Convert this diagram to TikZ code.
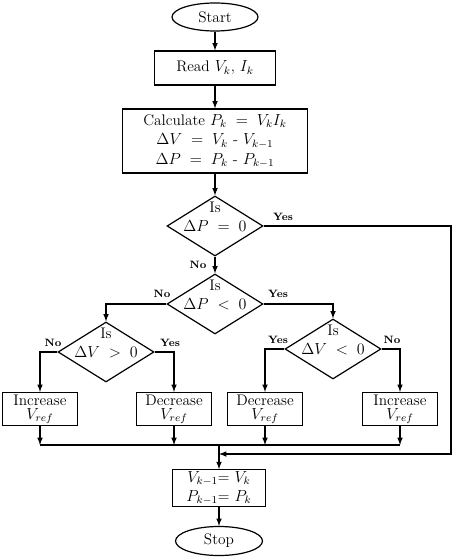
\documentclass[tikz,border=0pt]{standalone}
\usetikzlibrary{shapes.geometric}

\tikzset{
  txt/.style={font=\fontsize{11.5}{13.5}\selectfont},
  term/.style={draw,ellipse,line width=0.9pt,inner sep=0pt,txt},
  proc/.style={draw,rectangle,line width=0.9pt,inner sep=1pt,align=center,txt},
  decide/.style={draw,diamond,aspect=1.6,line width=0.9pt,inner sep=0pt,
    minimum width=72pt,minimum height=45pt,txt,
    label={[anchor=north,yshift=-5pt,inner sep=0pt,txt]north:Is}},
  side/.style={proc,minimum width=56.25pt,minimum height=24.75pt},
  lbl/.style={font=\footnotesize\bfseries,inner sep=1pt},
  line/.style={line width=0.9pt},
}

\begin{document}
\begin{tikzpicture}[x=0.75pt,y=-0.75pt,>=latex]
    \useasboundingbox (0,0) rectangle (474,559);
    % main column
    \node[term,minimum width=64.5pt,minimum height=21pt] (start) at (215,17) {Start};
    \node[proc,minimum width=90.75pt,minimum height=25.5pt] (read) at (215,68) {Read $V_k$, $I_k$};
    \node[proc,minimum width=138.75pt,minimum height=48pt] (calc) at (215,141)
      {Calculate $P_k \;=\; V_kI_k$\\[1pt] $\Delta V \;=\; V_k$ - $V_{k-1}$\\[1pt] $\Delta P \;=\; P_k$ - $P_{k-1}$};
    \node[decide] (dp0) at (215,226) {$\Delta P \;=\; 0$};
    \node[decide] (dpn) at (215,304) {$\Delta P \;<\; 0$};
    % the two voltage tests
    \node[decide] (dvp) at (106,352) {$\Delta V \;>\; 0$};
    \node[decide] (dvn) at (333,349) {$\Delta V \;<\; 0$};
    \node[side] (incL) at (40,409) {Increase\\[-3pt] $V_{ref}$};
    \node[side] (decL) at (174,409) {Decrease\\[-3pt] $V_{ref}$};
    \node[side] (decR) at (265,409) {Decrease\\[-3pt] $V_{ref}$};
    \node[side] (incR) at (400,409) {Increase\\[-3pt] $V_{ref}$};
    % bottom
    \node[proc,minimum width=69.75pt,minimum height=24pt] (upd) at (219,488)
      {$V_{k-1}$= $V_k$\\[1pt] $P_{k-1}$= $P_k$};
    \node[term,minimum width=65.25pt,minimum height=21.75pt] (stop) at (219,541) {Stop};
    \coordinate (merge) at (219,445);
    \coordinate (loop) at (451,454);

    % branch labels
    \node[lbl] (yes0) at (283,217) {Yes};
    \node[lbl] (no0) at (198,265) {No};
    \node[lbl] (no1) at (162,294) {No};
    \node[lbl] (yes1) at (278,294) {Yes};
    \node[lbl] (no2) at (53,343) {No};
    \node[lbl] (yes2) at (170,343) {Yes};
    \node[lbl] (yes3) at (278,340) {Yes};
    \node[lbl] (no3) at (392,340) {No};

    % connectors
    \draw[line,->] (start) -- (read);
    \draw[line,->] (read) -- (calc);
    \draw[line,->] (calc) -- (dp0);
    \draw[line,->] (dp0) -- (dpn);
    \draw[line,->] (dpn.west) -| (dvp.north);
    \draw[line,->] (dpn.east) -| (dvn.north);
    \draw[line,->] (dvp.west) -| (incL.north);
    \draw[line,->] (dvp.east) -| (decL.north);
    \draw[line,->] (dvn.west) -| (decR.north);
    \draw[line,->] (dvn.east) -| (incR.north);
    \foreach \bx in {incL,decL,decR,incR}{
      \draw[line,->] (\bx.south) -- (\bx |- merge);
    }
    \draw[line] (incL |- merge) -- (incR |- merge);
    \draw[line,->] (merge) -- (upd);
    \draw[line,->] (dp0.east) -| (loop) -- (merge |- loop);
    \draw[line,->] (upd) -- (stop);
\end{tikzpicture}
\end{document}
